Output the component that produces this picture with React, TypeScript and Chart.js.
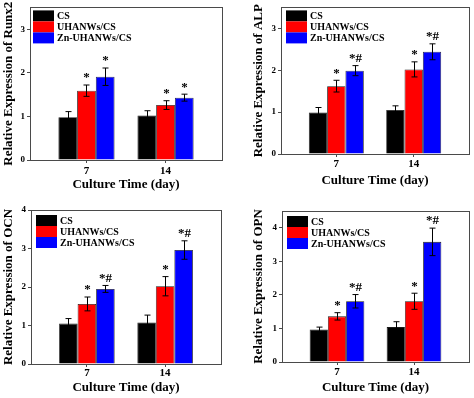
import React, { useEffect, useRef } from 'react';
import { Chart, registerables } from 'chart.js';

Chart.register(...registerables);

const cultureDays = [7, 14];
const xTickValues = [7, 14];
const seriesNames = ['CS', 'UHANWs/CS', 'Zn-UHANWs/CS'];
const seriesColors = ['#000000', '#ff0000', '#0000ff'];

// Runx2
const runx2CS = [0.98, 1.02];
const runx2UH = [1.59, 1.26];
const runx2Zn = [1.91, 1.43];
const runx2CSErr = [0.13, 0.11];
const runx2UHErr = [0.13, 0.1];
const runx2ZnErr = [0.2, 0.08];
const runx2CSMark = ['', ''];
const runx2UHMark = ['*', '*'];
const runx2ZnMark = ['*', '*'];
const runx2YTicks = [0, 1, 2, 3];

// ALP
const alpCS = [0.99, 1.05];
const alpUH = [1.62, 2.02];
const alpZn = [1.99, 2.44];
const alpCSErr = [0.12, 0.1];
const alpUHErr = [0.14, 0.18];
const alpZnErr = [0.12, 0.19];
const alpCSMark = ['', ''];
const alpUHMark = ['*', '*'];
const alpZnMark = ['*#', '*#'];
const alpYTicks = [0, 1, 2, 3];

// OCN
const ocnCS = [1.05, 1.08];
const ocnUH = [1.56, 2.02];
const ocnZn = [1.95, 2.96];
const ocnCSErr = [0.13, 0.19];
const ocnUHErr = [0.18, 0.25];
const ocnZnErr = [0.09, 0.24];
const ocnCSMark = ['', ''];
const ocnUHMark = ['*', '*'];
const ocnZnMark = ['*#', '*#'];
const ocnYTicks = [0, 1, 2, 3, 4];

// OPN
const opnCS = [0.97, 1.04];
const opnUH = [1.36, 1.81];
const opnZn = [1.81, 3.58];
const opnCSErr = [0.07, 0.16];
const opnUHErr = [0.11, 0.24];
const opnZnErr = [0.2, 0.41];
const opnCSMark = ['', ''];
const opnUHMark = ['*', '*'];
const opnZnMark = ['*#', '*#'];
const opnYTicks = [0, 1, 2, 3, 4];

const FONT = "'Liberation Serif', 'Times New Roman', serif";
const AXIS = '#4a4a4a';

type Panel = {
  title: string;
  values: number[][];
  errors: number[][];
  marks: string[][];
  yTicks: number[];
  yMax: number;
  left: number;
  top: number;
  w: number;
  h: number;
  padTop: number;
  padRight: number;
  yWidth: number;
  xHeight: number;
  yTitlePad: number;
  xTitlePad: number;
  xTickPad: number;
  legendDx: number;
  legendDy: number;
};

const panels: Panel[] = [
  {
    title: 'Relative Expression of Runx2',
    values: [runx2CS, runx2UH, runx2Zn],
    errors: [runx2CSErr, runx2UHErr, runx2ZnErr],
    marks: [runx2CSMark, runx2UHMark, runx2ZnMark],
    yTicks: runx2YTicks, yMax: 3.5,
    left: 0, top: 0, w: 237, h: 198,
    padTop: 7, padRight: 15, yWidth: 30, xHeight: 38,
    yTitlePad: 1, xTitlePad: 6, xTickPad: 2, legendDx: 3, legendDy: 3,
  },
  {
    title: 'Relative Expression of ALP',
    values: [alpCS, alpUH, alpZn],
    errors: [alpCSErr, alpUHErr, alpZnErr],
    marks: [alpCSMark, alpUHMark, alpZnMark],
    yTicks: alpYTicks, yMax: 3.5,
    left: 237, top: 0, w: 237, h: 198,
    padTop: 3, padRight: 5, yWidth: 44, xHeight: 44,
    yTitlePad: 14, xTitlePad: 10, xTickPad: 1, legendDx: 5, legendDy: 3,
  },
  {
    title: 'Relative Expression of OCN',
    values: [ocnCS, ocnUH, ocnZn],
    errors: [ocnCSErr, ocnUHErr, ocnZnErr],
    marks: [ocnCSMark, ocnUHMark, ocnZnMark],
    yTicks: ocnYTicks, yMax: 4,
    left: 0, top: 198, w: 237, h: 200,
    padTop: 12, padRight: 16, yWidth: 31, xHeight: 34,
    yTitlePad: 1, xTitlePad: 2.5, xTickPad: 0, legendDx: 5, legendDy: 5,
  },
  {
    title: 'Relative Expression of OPN',
    values: [opnCS, opnUH, opnZn],
    errors: [opnCSErr, opnUHErr, opnZnErr],
    marks: [opnCSMark, opnUHMark, opnZnMark],
    yTicks: opnYTicks, yMax: 4.5,
    left: 237, top: 198, w: 237, h: 200,
    padTop: 13, padRight: 5, yWidth: 45, xHeight: 36,
    yTitlePad: 14, xTitlePad: 2.5, xTickPad: 1, legendDx: 5, legendDy: 5,
  },
];

function makeConfig(p: Panel): any {
  const decor = {
    id: 'decor',
    afterDatasetsDraw(chart: any) {
      const ctx = chart.ctx;
      const ys = chart.scales.y;
      ctx.save();
      ctx.strokeStyle = '#000';
      ctx.fillStyle = '#000';
      ctx.lineWidth = 1;
      ctx.font = `bold 13px ${FONT}`;
      ctx.textAlign = 'center';
      ctx.textBaseline = 'bottom';
      p.values.forEach((vals, i) => {
        const meta = chart.getDatasetMeta(i);
        meta.data.forEach((el: any, j: number) => {
          const v = vals[j];
          const e = p.errors[i][j];
          const x = Math.round(el.x) + 0.5;
          const yT = ys.getPixelForValue(v + e);
          const yB = ys.getPixelForValue(v - e);
          ctx.beginPath();
          ctx.moveTo(x, yT);
          ctx.lineTo(x, yB);
          ctx.moveTo(x - 3, yT);
          ctx.lineTo(x + 3, yT);
          ctx.moveTo(x - 3, yB);
          ctx.lineTo(x + 3, yB);
          ctx.stroke();
          const m = p.marks[i][j];
          if (m) ctx.fillText(m, x, yT - 0.5);
        });
      });
      ctx.restore();
    },
    afterDraw(chart: any) {
      const ctx = chart.ctx;
      const a = chart.chartArea;
      ctx.save();
      ctx.strokeStyle = AXIS;
      ctx.lineWidth = 1;
      ctx.strokeRect(Math.round(a.left) + 0.5, Math.round(a.top) + 0.5, Math.round(a.right - a.left), Math.round(a.bottom - a.top));
      ctx.font = `bold 10px ${FONT}`;
      ctx.textAlign = 'left';
      ctx.textBaseline = 'middle';
      seriesNames.forEach((name, i) => {
        const x0 = a.left + p.legendDx;
        const y0 = a.top + p.legendDy + i * 11;
        ctx.fillStyle = seriesColors[i];
        ctx.fillRect(x0, y0, 21, 11);
        ctx.fillStyle = '#000';
        ctx.fillText(name, x0 + 24, y0 + 6);
      });
      ctx.restore();
    },
  };

  return {
    type: 'bar',
    data: {
      datasets: p.values.map((vals, i) => ({
        label: seriesNames[i],
        data: cultureDays.map((d, j) => ({ x: d, y: vals[j] })),
        backgroundColor: seriesColors[i],
        borderColor: '#1a1a1a',
        borderWidth: 0.8,
        categoryPercentage: 0.71,
        barPercentage: 1,
      })),
    },
    options: {
      responsive: false,
      animation: false,
      devicePixelRatio: 1,
      layout: { padding: { left: 0, top: p.padTop, right: p.padRight, bottom: 0 } },
      plugins: { legend: { display: false }, tooltip: { enabled: false } },
      scales: {
        x: {
          type: 'linear',
          min: 2,
          max: 19,
          offset: false,
          afterBuildTicks: (s: any) => {
            s.ticks = xTickValues.map((v) => ({ value: v }));
          },
          afterFit: (s: any) => {
            s.height = p.xHeight;
          },
          grid: { display: true, offset: false, drawOnChartArea: false, drawTicks: true, tickLength: 3, color: AXIS },
          border: { display: true, color: AXIS },
          ticks: { font: { family: FONT, size: 11, weight: 'bold' }, color: '#000', padding: p.xTickPad, maxRotation: 0, autoSkip: false },
          title: {
            display: true,
            text: 'Culture Time (day)',
            font: { family: FONT, size: 13, weight: 'bold' },
            color: '#000',
            padding: { top: 0, bottom: p.xTitlePad },
          },
        },
        y: {
          min: 0,
          max: p.yMax,
          afterBuildTicks: (s: any) => {
            s.ticks = p.yTicks.map((v) => ({ value: v }));
          },
          afterFit: (s: any) => {
            s.width = p.yWidth;
          },
          grid: { display: true, drawOnChartArea: false, drawTicks: true, tickLength: 3, color: AXIS },
          border: { display: true, color: AXIS },
          ticks: { font: { family: FONT, size: 9, weight: 'bold' }, color: '#000', padding: 2 },
          title: {
            display: true,
            text: p.title,
            font: { family: FONT, size: 13, weight: 'bold' },
            color: '#000',
            padding: { top: p.yTitlePad, bottom: 0 },
          },
        },
      },
    },
    plugins: [decor],
  };
}

function PanelChart({ p }: { p: Panel }) {
  const ref = useRef<HTMLCanvasElement | null>(null);
  useEffect(() => {
    if (!ref.current) return;
    const chart = new Chart(ref.current, makeConfig(p));
    return () => chart.destroy();
  }, [p]);
  return (
    <div style={{ position: 'absolute', left: p.left, top: p.top, width: p.w, height: p.h }}>
      <canvas ref={ref} width={p.w} height={p.h} style={{ display: 'block' }} />
    </div>
  );
}

export default function App() {
  return (
    <div style={{ position: 'absolute', left: 0, top: 0, width: 474, height: 398, background: '#fff' }}>
      {panels.map((p, i) => (
        <PanelChart key={i} p={p} />
      ))}
    </div>
  );
}
